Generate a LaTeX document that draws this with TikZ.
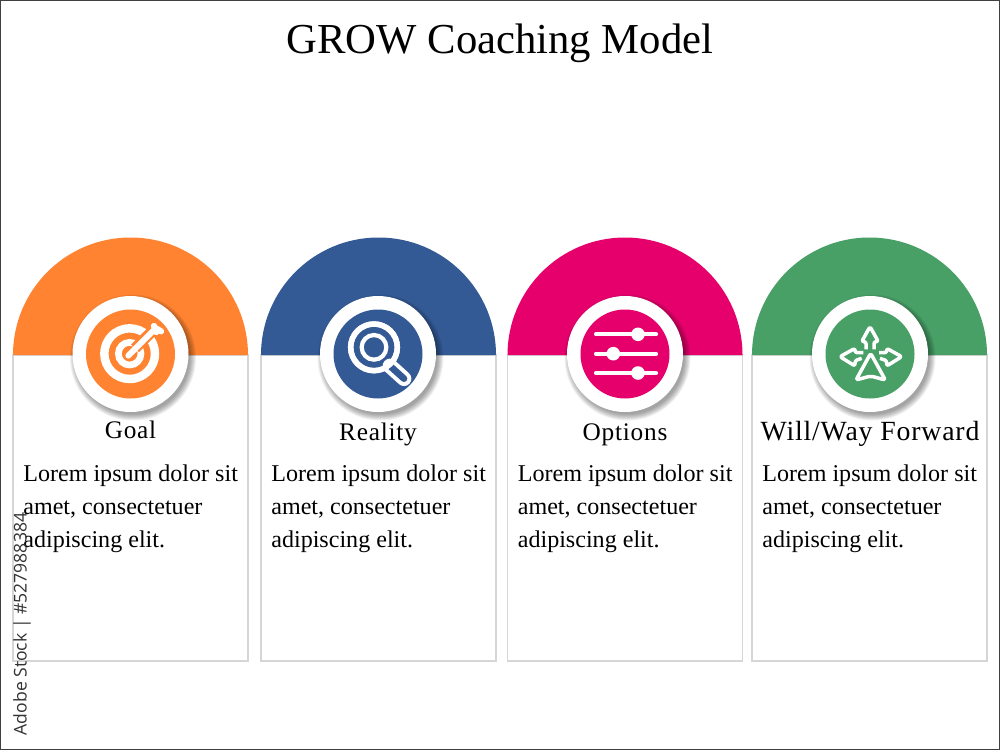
\documentclass[tikz,border=0pt]{standalone}
\usepackage{fontspec}
\setmainfont{Liberation Serif}
\setsansfont{Open Sans}
\newfontface\headface[LetterSpace=3]{Liberation Serif}
\definecolor{goalcol}{HTML}{FF8330}
\definecolor{realitycol}{HTML}{345A96}
\definecolor{optionscol}{HTML}{E5006B}
\definecolor{willcol}{HTML}{48A067}
\tikzset{%
  every panel/.style={
    draw=black!16,
    line width=0.6pt
  },
  heading/.style={
    font=\headface\fontsize{14.4}{18}\selectfont,
    anchor=base
  },
  body/.style={
    font=\fontsize{13.7}{19}\selectfont,
    anchor=north west,
    align=left,
    inner sep=0pt
  },
  icon line/.style={
    draw=white,
    line width=2pt,
    line join=round,
    rounded corners=1.2pt
  },
  slider/.style={
    draw=white,
    line width=2.4pt,
    line cap=round
  },
}

\begin{document}
\begin{tikzpicture}[> = stealth, x=0.02cm, y=-0.02cm]
\useasboundingbox (0,0) rectangle (1000,750);
\fill[white] (0,0) rectangle (1000,750);
\draw[black!75,line width=1.2pt] (0,0) rectangle (1000,750);
\node[font=\fontsize{24.3}{28}\selectfont,anchor=base] (title) at (500,54) {GROW Coaching Model};
    \foreach \x/\c/\col/\name/\ty/\label in {13/130.5/goalcol/goal/438/Goal,
        261/378/realitycol/reality/440/Reality,
        507.5/625/optionscol/options/440/Options,
        752/870/willcol/will/440/{\fontsize{15.8}{18}\selectfont Will/Way Forward}}{
        \draw[every panel] (\x,355) rectangle +(235,306);
        \fill[\col] (\x,355) arc (180:360:117.5) -- cycle;
        \foreach \r in {63,62,61,60,59,58,57}
            \fill[black,opacity=0.06] (\c+2.5,354+3.5) circle (\r);
        \fill[white] (\c,354) circle (58);
        \fill[\col] (\c,354) circle (44.5);
        \node[heading] (head_\name) at (\c,\ty) {\label};
        \node[body] (text_\name) at (\x+10,464) {Lorem ipsum dolor sit\\amet, consectetuer\\adipiscing elit.};
    }
% target
\begin{scope}[shift={(85,310)},scale=1/3]
    \draw[white,line width=4.8pt] (134,131) circle (76);
    \draw[white,line width=3.8pt] (134,131) circle (34);
    \draw[goalcol,line width=6.2pt] (150,115) -- (205,60);
    \draw[white,line width=3.4pt,line cap=round] (130,137) -- (207,60);
    \draw[white,line width=3.6pt,line cap=round] (207,48) -- (214,66);
    \draw[white,line width=3.6pt,line cap=round] (214,56) -- (228,64);
\end{scope}
% magnifier
\begin{scope}[shift={(310,290)},scale=1/3]
    \draw[white,line width=3.1pt] (192,172) circle (70);
    \draw[white,line width=2.4pt] (192,172) circle (37);
    \draw[white,line width=8.4pt,line cap=round] (240,228) -- (282,266);
    \draw[realitycol,line width=3.8pt,line cap=round] (240,228) -- (282,266);
    \draw[white,line width=3.1pt] (192,172) circle (70);
\end{scope}
% sliders
\foreach \y/\k in {334.3/638,353.7/613.3,373/638}{
    \draw[slider] (596,\y) -- (656,\y);
    \fill[white] (\k,\y) circle (6.8);
}
% arrows
\begin{scope}[shift={(805,290)},scale=1/3]
    \draw[icon line] (183,178) -- (183,155) -- (170,155) -- (195,110) -- (220,155) -- (207,155) -- (207,178);
    \draw[icon line] (175,188) -- (150,188) -- (150,175) -- (105,200) -- (150,228) -- (150,212) -- (170,205);
    \draw[icon line] (222,188) -- (245,188) -- (245,175) -- (290,200) -- (245,228) -- (245,212) -- (225,205);
    \draw[icon line] (197,190) -- (153,270) -- (197,258) -- (241,270) -- cycle;
\end{scope}
\node[font=\sffamily\fontsize{10}{13}\selectfont,text=black!80,rotate=90,inner sep=0pt] (stock) at (22,624) {Adobe Stock | \#527988384};
\end{tikzpicture}
\end{document}
